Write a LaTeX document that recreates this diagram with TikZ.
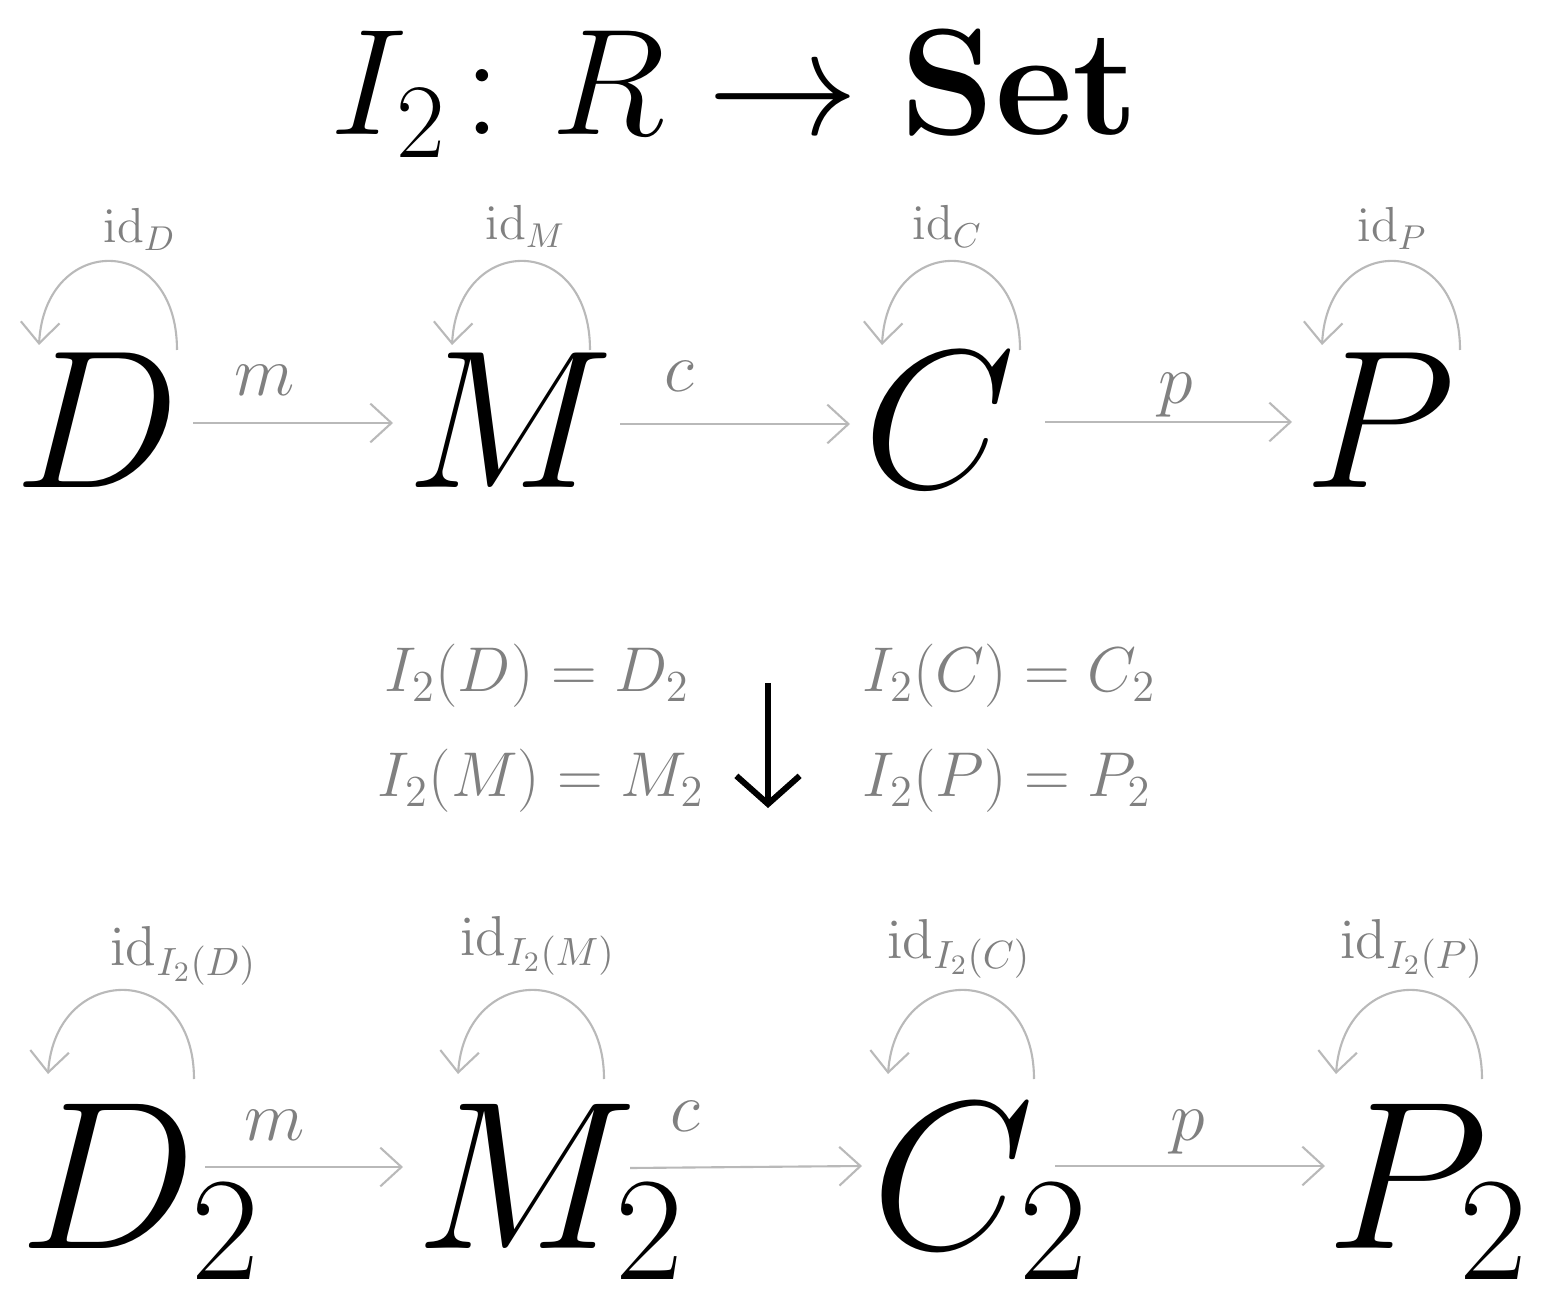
\RequirePackage{fix-cm}
\documentclass[tikz,border=0pt]{standalone}
\usepackage{amsmath}
\usetikzlibrary{arrows.meta, calc}

\definecolor{labelgray}{RGB}{128, 128, 128}
\definecolor{arrowgray}{RGB}{185, 185, 185}

\begin{document}
\begin{tikzpicture}[x=0.01cm, y=-0.01cm,
    obj/.style={inner sep=0pt, anchor=base, font=\fontsize{56}{60}\selectfont},
    objtwo/.style={inner sep=0pt, anchor=base, font=\fontsize{60}{66}\selectfont},
    mor/.style={draw=arrowgray, line width=0.6pt, -{Straight Barb[length=6pt, width=11pt]}},
    morlab/.style={text=labelgray, inner sep=0pt, font=\fontsize{20}{24}\selectfont},
    idlab/.style={text=labelgray, anchor=base west, inner sep=0pt, font=\fontsize{14}{16}\selectfont},
    idlabtwo/.style={idlab, font=\fontsize{16}{18}\selectfont},
    eqn/.style={text=labelgray, anchor=base, inner sep=0pt, font=\fontsize{18}{22}\selectfont},
    mapsarr/.style={draw=black, line width=1.7pt, -{Straight Barb[length=8pt, width=18pt]}}]
  \useasboundingbox (0,0) rectangle (1546,1289);

  % title
  \node[inner sep=0pt, anchor=base, font=\fontsize{43}{47}\selectfont] (title) at (735,135) {$I_2\colon R \to \mathbf{Set}$};

  % category R
  \node[obj] (D) at (97,488) {$D$};
  \node[obj] (M) at (510,488) {$M$};
  \node[obj] (C) at (940,488) {$C$};
  \node[obj] (P) at (1380,488) {$P$};

  \draw[mor] ($(D.base)+(96,-65)$) -- node[morlab, pos=0.36, above=7.5pt] {$m$} ($(M.base)+(-117,-65)$);
  \draw[mor] ($(M.base)+(110,-64)$) -- node[morlab, pos=0.26, above=9pt] {$c$} ($(C.base)+(-90,-64)$);
  \draw[mor] ($(C.base)+(105,-66)$) -- node[morlab, pos=0.53, above=1pt] {$p$} ($(P.base)+(-88,-66)$);

  \foreach \n in {D,M,C,P}
    \draw[mor] ($(\n.base)+(80,-138)$) .. controls +(0,-118) and +(6,-112) .. ($(\n.base)+(-58,-143)$);

  \node[idlab] (idD) at (103,243) {$\mathrm{id}_D$};
  \node[idlab] (idM) at (485,240) {$\mathrm{id}_M$};
  \node[idlab] (idC) at (912,240) {$\mathrm{id}_C$};
  \node[idlab] (idP) at (1357,242) {$\mathrm{id}_P$};

  % the functor
  \node[eqn] (eqD) at (537,692) {$I_2(D) = D_2$};
  \node[eqn] (eqM) at (541,797) {$I_2(M) = M_2$};
  \node[eqn, anchor=base west] (eqC) at (862,692) {$I_2(C) = C_2$};
  \node[eqn, anchor=base west] (eqP) at (862,797) {$I_2(P) = P_2$};
  \coordinate (maptop) at (768,683);
  \coordinate (mapbot) at (768,808);
  \draw[mapsarr] (maptop) -- (mapbot);

  % image in Set
  \node[objtwo] (D2) at (140,1248) {$D_2$};
  \node[objtwo] (M2) at (550,1248) {$M_2$};
  \node[objtwo] (C2) at (980,1248) {$C_2$};
  \node[objtwo] (P2) at (1428,1248) {$P_2$};

  \draw[mor] ($(D2.base)+(65,-81)$) -- node[morlab, pos=0.35, above=7.3pt] {$m$} ($(M2.base)+(-147,-81)$);
  \draw[mor] ($(M2.base)+(80,-80)$) -- node[morlab, pos=0.24, above=10pt] {$c$} ($(C2.base)+(-118,-82)$);
  \draw[mor] ($(C2.base)+(75,-82)$) -- node[morlab, pos=0.49, above=3pt] {$p$} ($(P2.base)+(-103,-82)$);

  \foreach \n in {D2,M2,C2,P2}
    \draw[mor] ($(\n.base)+(54,-169)$) .. controls +(0,-118) and +(8,-112) .. ($(\n.base)+(-92,-174)$);

  \node[idlabtwo] (idD2) at (110,965) {$\mathrm{id}_{I_2(D)}$};
  \node[idlabtwo] (idM2) at (460,955) {$\mathrm{id}_{I_2(M)}$};
  \node[idlabtwo] (idC2) at (887,958) {$\mathrm{id}_{I_2(C)}$};
  \node[idlabtwo] (idP2) at (1340,958) {$\mathrm{id}_{I_2(P)}$};
\end{tikzpicture}
\end{document}
